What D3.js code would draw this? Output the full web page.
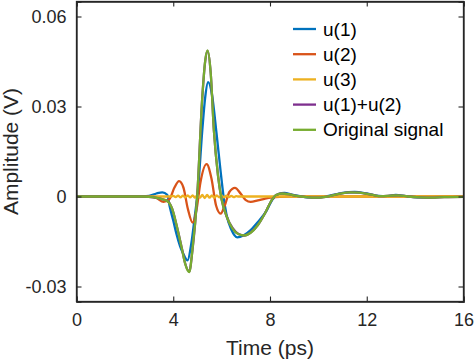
<!DOCTYPE html>
<html>
<head>
<meta charset="utf-8">
<script src="https://cdn.jsdelivr.net/npm/d3@7"></script>
<style>
  html, body { margin: 0; padding: 0; background: #fff; }
  svg { display: block; font-family: "Liberation Sans", Arial, Helvetica, sans-serif; }
</style>
</head>
<body>
<svg id="chart" width="474" height="360"></svg>
<script>
// ---- Data (time in ps, amplitude in V) ----
const xTicks = [0, 4, 8, 12, 16];
const yTicks = [-0.03, 0, 0.03, 0.06];
const yTickLabels = ["-0.03", "0", "0.03", "0.06"];
const seriesNames = ["u(1)", "u(2)", "u(3)", "u(1)+u(2)", "Original signal"];
const seriesColors = ["#0072BD", "#D95319", "#EDB120", "#7E2F8E", "#77AC30"];

const u1T = [0, 2.5, 3.0, 3.3, 3.55, 3.75, 3.86, 4.0, 4.13, 4.28, 4.41, 4.59, 4.75, 4.9, 5.02, 5.2, 5.32, 5.44, 5.6, 5.79, 5.95, 6.08, 6.2, 6.4, 6.65, 6.9, 7.2, 7.5, 7.86, 8.1, 8.35, 8.6, 8.9, 9.3, 9.7, 10.1, 10.6, 11.0, 11.5, 12.0, 12.5, 12.8, 13.2, 13.6, 14.1, 14.6, 15.2, 16];
const u1V = [0, 0, 0.0002, 0.0010, 0.0014, 0.0006, -0.0036, -0.0080, -0.0124, -0.0165, -0.0190, -0.0213, -0.0155, -0.0060, 0.0020, 0.0220, 0.0330, 0.0381, 0.0340, 0.0210, 0.0090, 0.0000, -0.0060, -0.0110, -0.0136, -0.0130, -0.0112, -0.0085, -0.0047, -0.0010, 0.0008, 0.0012, 0.0006, 0.0000, -0.0003, -0.0002, 0.0005, 0.0012, 0.0015, 0.0010, 0.0002, 0.0001, 0.0005, 0.0001, -0.0003, -0.0003, 0.0000, 0];

const u2T = [0, 3.0, 3.3, 3.6, 3.85, 4.05, 4.24, 4.42, 4.6, 4.8, 4.97, 5.12, 5.38, 5.58, 5.77, 5.96, 6.13, 6.32, 6.55, 6.8, 7.0, 7.2, 7.5, 7.8, 8.1, 8.4, 8.8, 16];
const u2V = [0, 0, -0.0005, -0.0018, -0.0008, 0.0030, 0.0051, 0.0030, -0.0040, -0.0087, -0.0040, 0.0045, 0.0108, 0.0060, -0.0030, -0.0057, -0.0030, 0.0015, 0.0029, 0.0008, -0.0012, -0.0018, -0.0013, -0.0007, -0.0003, -0.0001, 0, 0];

const u3T = [0, 3.9, 4.0, 4.1, 4.2, 4.3, 4.4, 4.5, 4.6, 4.7, 4.8, 4.9, 5.0, 5.1, 5.2, 5.3, 5.4, 5.5, 5.6, 5.7, 5.8, 5.9, 6.0, 6.1, 6.2, 6.3, 6.4, 6.5, 6.6, 6.7, 16];
const u3V = [0, 0, 0.0002, -0.0002, 0.0003, -0.0003, 0.0003, -0.0003, 0.0004, -0.0003, 0.0004, -0.0004, 0.0005, -0.0004, 0.0005, -0.0005, 0.0005, -0.0004, 0.0004, -0.0004, 0.0004, -0.0003, 0.0003, -0.0003, 0.0003, -0.0002, 0.0002, -0.0002, 0.0001, 0, 0];

const sumT = [0, 2.8, 3.2, 3.5, 3.75, 3.95, 4.15, 4.35, 4.5, 4.66, 4.8, 4.99, 5.2, 5.32, 5.42, 5.55, 5.68, 5.85, 6.0, 6.2, 6.45, 6.7, 6.95, 7.2, 7.5, 7.8, 8.05, 8.25, 8.5, 8.75, 9.1, 9.5, 9.9, 10.3, 10.8, 11.3, 11.7, 12.2, 12.6, 13.0, 13.3, 13.7, 14.2, 14.7, 15.2, 16];
const sumV = [0, 0, -0.0003, -0.0008, -0.0014, -0.0040, -0.0100, -0.0170, -0.0225, -0.0250, -0.0175, 0.0000, 0.0330, 0.0450, 0.0485, 0.0410, 0.0220, 0.0070, -0.0010, -0.0065, -0.0105, -0.0125, -0.0130, -0.0120, -0.0095, -0.0055, -0.0015, 0.0005, 0.0010, 0.0008, 0.0002, -0.0002, -0.0004, -0.0001, 0.0008, 0.0014, 0.0013, 0.0006, 0.0001, 0.0003, 0.0004, 0.0000, -0.0003, -0.0004, -0.0002, -0.0001];

const origT = [0, 2.8, 3.2, 3.5, 3.75, 3.95, 4.15, 4.35, 4.5, 4.66, 4.8, 4.99, 5.2, 5.32, 5.42, 5.55, 5.68, 5.85, 6.0, 6.2, 6.45, 6.7, 6.95, 7.2, 7.5, 7.8, 8.05, 8.25, 8.5, 8.75, 9.1, 9.5, 9.9, 10.3, 10.8, 11.3, 11.7, 12.2, 12.6, 13.0, 13.3, 13.7, 14.2, 14.7, 15.2, 16];
const origV = [0, 0, -0.0003, -0.0008, -0.0015, -0.0040, -0.0100, -0.0172, -0.0226, -0.0252, -0.0172, 0.0000, 0.0330, 0.0452, 0.0487, 0.0410, 0.0220, 0.0070, -0.0010, -0.0065, -0.0107, -0.0126, -0.0130, -0.0121, -0.0095, -0.0055, -0.0015, 0.0005, 0.0010, 0.0008, 0.0002, -0.0002, -0.0004, -0.0001, 0.0008, 0.0014, 0.0013, 0.0006, 0.0001, 0.0003, 0.0004, 0.0000, -0.0003, -0.0004, -0.0002, -0.0001];

const seriesT = [u1T, u2T, u3T, sumT, origT];
const seriesV = [u1V, u2V, u3V, sumV, origV];

// ---- Layout ----
const svg = d3.select("#chart");
const mLeft = 76.5, mRight = 463.5, mTop = 1.5, mBottom = 301.5;
const x = d3.scaleLinear().domain([0, 16]).range([mLeft, mRight]);
const y = d3.scaleLinear().domain([-0.035, 0.065]).range([mBottom, mTop]);
const axisColor = "#262626";

svg.append("defs").append("clipPath").attr("id", "clip")
  .append("rect").attr("x", mLeft).attr("y", mTop).attr("width", mRight - mLeft).attr("height", mBottom - mTop);

const line = d3.line().curve(d3.curveMonotoneX).x(d => x(d[0])).y(d => y(d[1]));
const plot = svg.append("g").attr("clip-path", "url(#clip)");
seriesT.forEach((ts, i) => {
  const pts = ts.map((t, j) => [t, seriesV[i][j]]);
  plot.append("path").datum(pts)
    .attr("d", line)
    .attr("fill", "none")
    .attr("stroke", seriesColors[i])
    .attr("stroke-width", 2.3)
    .attr("stroke-linejoin", "round");
});

const tickLen = 5;
const gx = svg.append("g").attr("transform", `translate(0,${mBottom})`)
  .call(d3.axisBottom(x).tickValues(xTicks).tickSize(-tickLen).tickPadding(12).tickFormat(d3.format("d")));
const gxTop = svg.append("g").attr("transform", `translate(0,${mTop})`)
  .call(d3.axisTop(x).tickValues(xTicks).tickSize(-tickLen).tickFormat(""));
const gy = svg.append("g").attr("transform", `translate(${mLeft},0)`)
  .call(d3.axisLeft(y).tickValues(yTicks).tickSize(-tickLen).tickPadding(10).tickFormat((d, i) => yTickLabels[i]));
const gyRight = svg.append("g").attr("transform", `translate(${mRight},0)`)
  .call(d3.axisRight(y).tickValues(yTicks).tickSize(-tickLen).tickFormat(""));

[gx, gxTop, gy, gyRight].forEach(g => {
  g.select(".domain").attr("stroke", axisColor).attr("stroke-width", 1.3);
  g.selectAll(".tick line").attr("stroke", axisColor).attr("stroke-width", 1.1);
  g.selectAll(".tick text").attr("fill", axisColor)
    .style("font-family", "'Liberation Sans', Arial, sans-serif").style("font-size", "18px");
});
svg.append("rect").attr("x", mLeft).attr("y", mTop).attr("width", mRight - mLeft).attr("height", mBottom - mTop)
  .attr("fill", "none").attr("stroke", axisColor).attr("stroke-width", 1.3);

svg.append("text")
  .attr("x", (mLeft + mRight) / 2).attr("y", 355)
  .attr("text-anchor", "middle").attr("fill", axisColor)
  .style("font-size", "21px").text("Time (ps)");
svg.append("text")
  .attr("transform", `translate(17.5,${(mTop + mBottom) / 2}) rotate(-90)`)
  .attr("text-anchor", "middle").attr("fill", axisColor)
  .style("font-size", "21px").text("Amplitude (V)");

const legend = svg.append("g");
seriesNames.forEach((name, i) => {
  const ly = 29 + i * 25.2;
  legend.append("line")
    .attr("x1", 293).attr("x2", 316).attr("y1", ly).attr("y2", ly)
    .attr("stroke", seriesColors[i]).attr("stroke-width", 2.3);
  legend.append("text")
    .attr("x", 323).attr("y", ly).attr("dy", "0.35em")
    .attr("fill", "#000").style("font-size", "19px").text(name);
});
</script>
</body>
</html>
